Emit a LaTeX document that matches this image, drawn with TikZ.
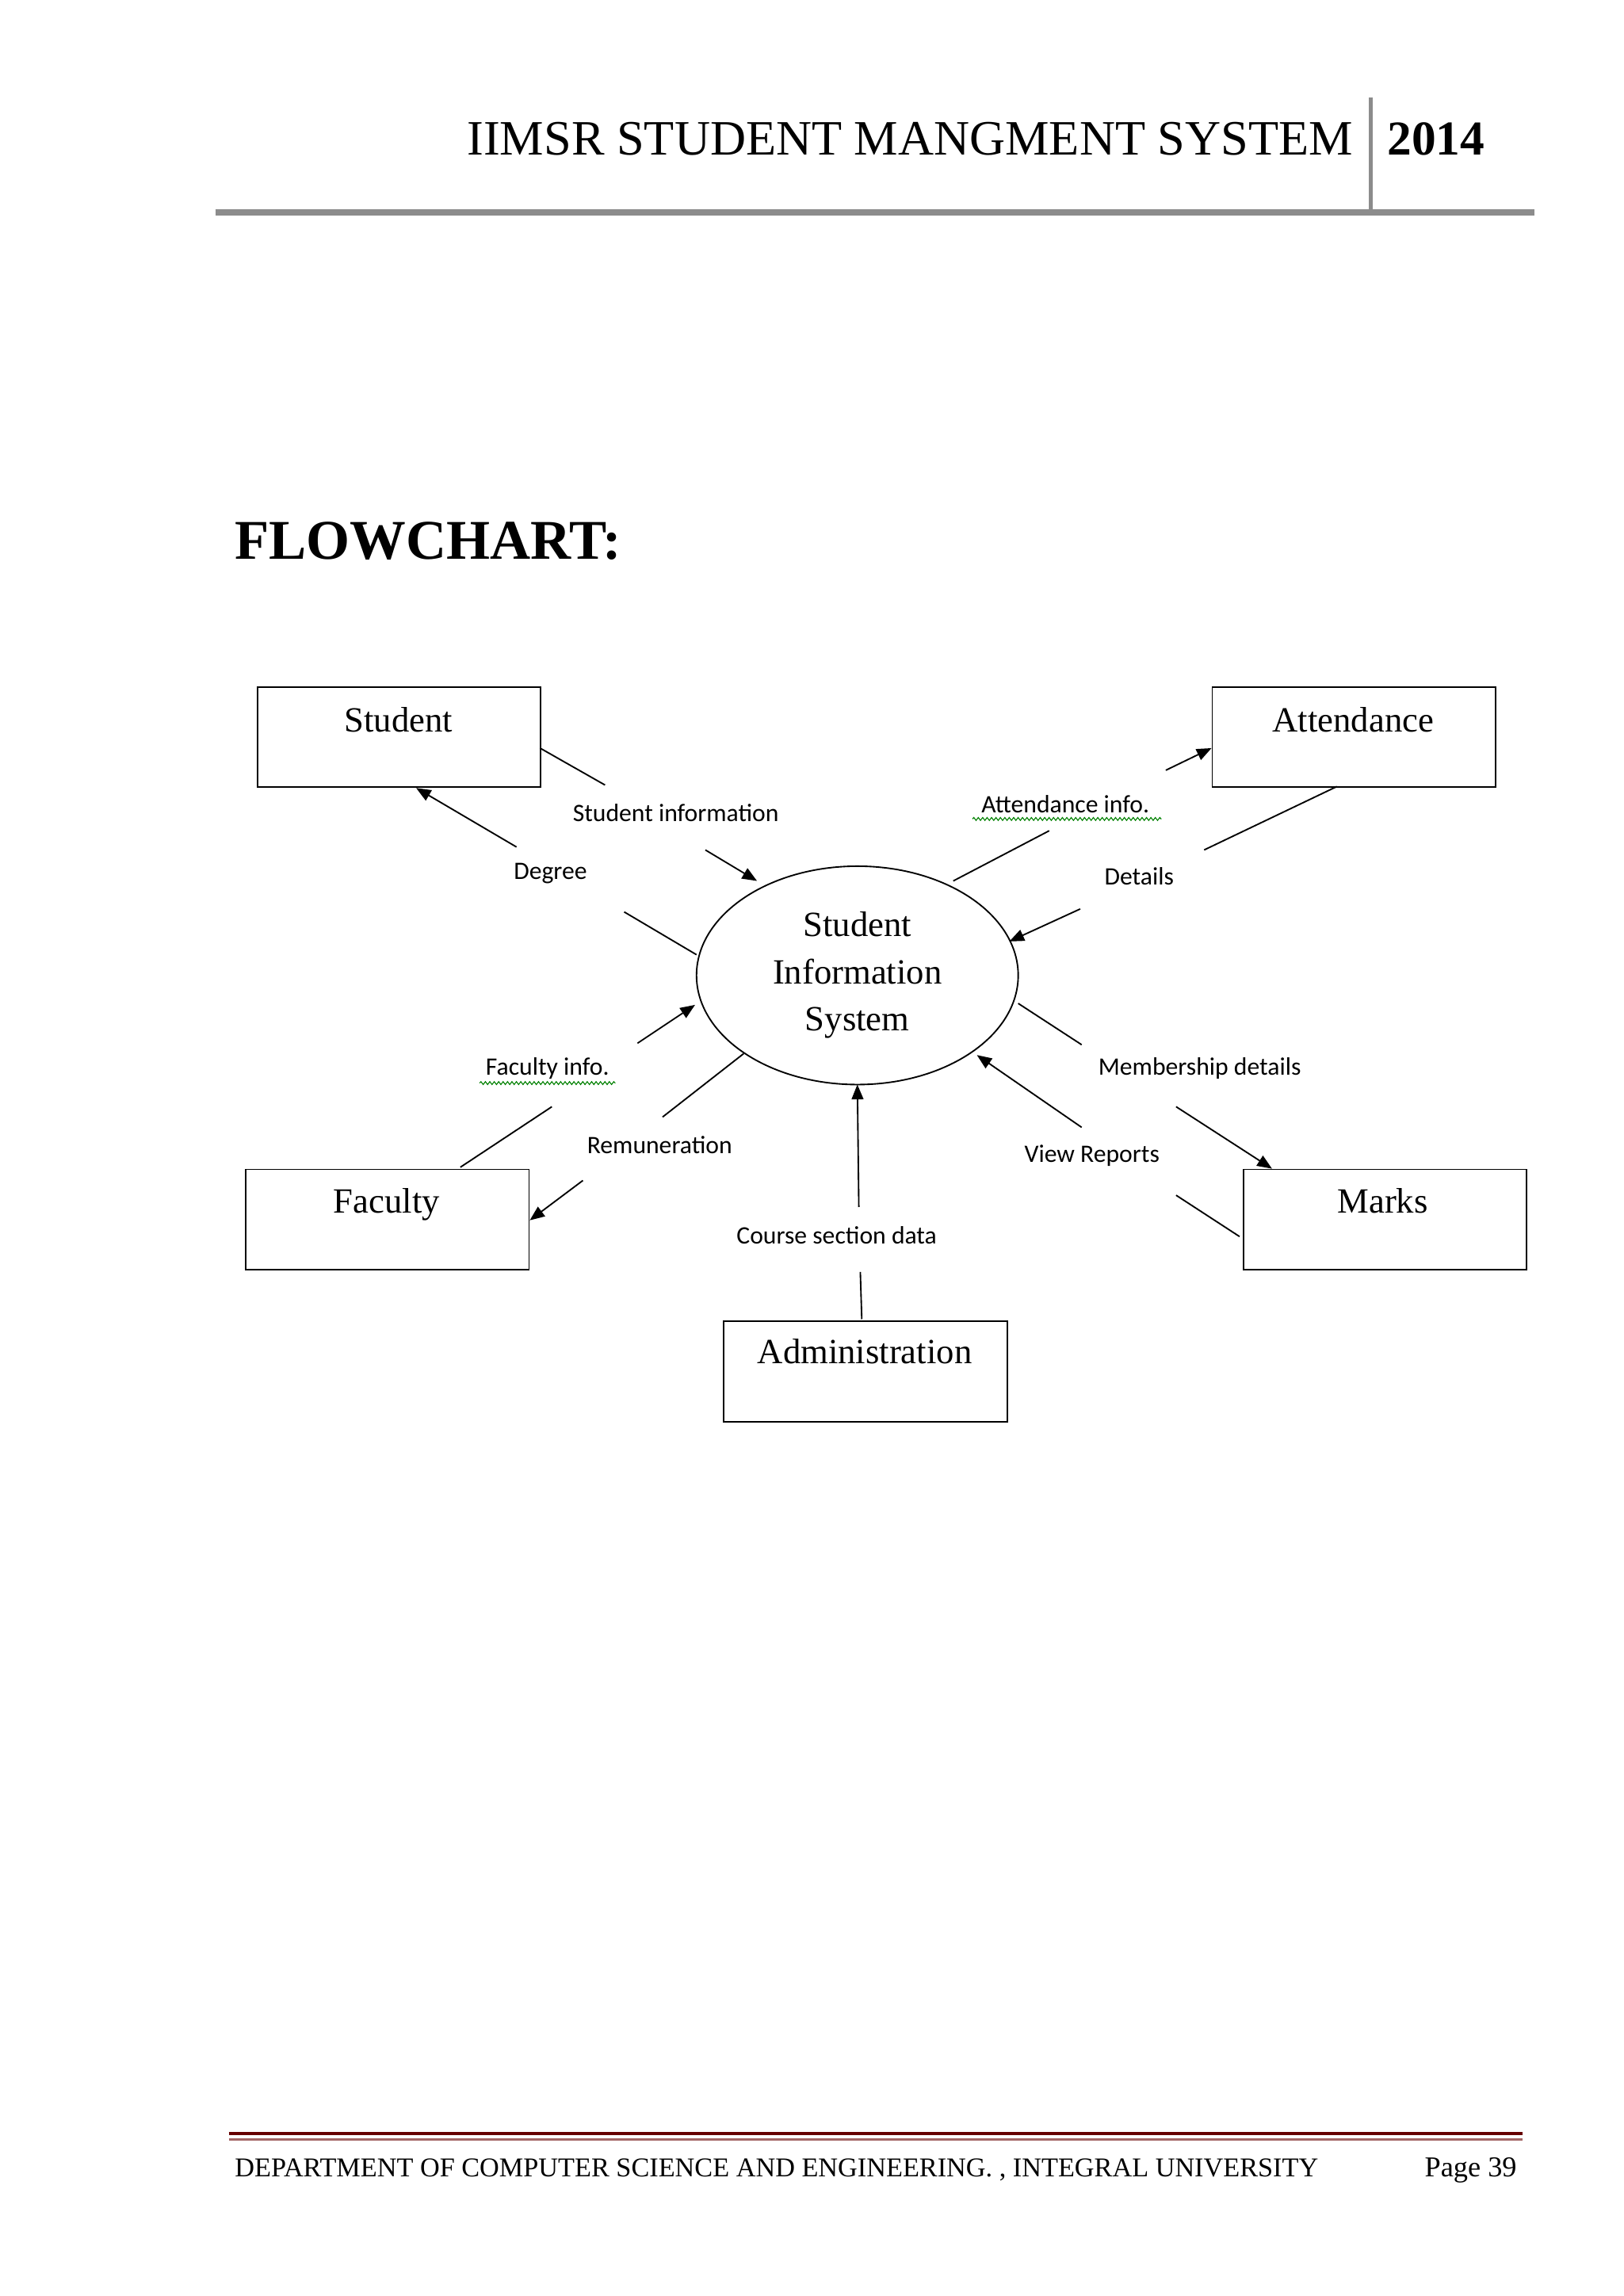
\documentclass[tikz,border=0pt]{standalone}
\usepackage{fontspec}
\setmainfont{Liberation Serif}
\newfontfamily\lblfont{Carlito}
\usetikzlibrary{arrows.meta,decorations.pathmorphing}
\begin{document}
\begin{tikzpicture}[x=1pt,y=-1pt,
  ent/.style={draw,line width=1pt,minimum width=192pt,minimum height=68pt,anchor=north west},
  entxt/.style={font=\fontsize{24}{28}\selectfont,anchor=base},
  lbl/.style={font=\lblfont\fontsize{17}{20}\selectfont},
  ln/.style={line width=1pt},
  ar/.style={line width=1pt,-{Triangle[length=10pt,width=8pt]}},
  squig/.style={draw=green!50!black,line width=0.6pt,decorate,decoration={snake,amplitude=1pt,segment length=3pt}}]
\useasboundingbox (0,0) rectangle (1100,1556);
% header
\node[anchor=base east,font=\fontsize{33.5}{36}\selectfont,inner sep=0] (title) at (917,105) {IIMSR STUDENT MANGMENT SYSTEM};
\node[anchor=base west,font=\bfseries\fontsize{33}{36}\selectfont,inner sep=0] (year) at (940,105) {2014};
\draw[gray!90,line width=3pt] (929,66) -- (929,143);
\draw[gray!90,line width=4pt] (146,144) -- (1040,144);
\node[anchor=base west,font=\bfseries\fontsize{38}{42}\selectfont,inner sep=0] (fc) at (159,379) {FLOWCHART:};
% entities
\node[ent] (stu) at (174,465) {};
\node[ent] (att) at (821,465) {};
\node[ent] (fac) at (166,792) {};
\node[ent] (mar) at (842,792) {};
\node[ent] (adm) at (490,895) {};
\node[entxt] at (270,496) {Student};
\node[entxt] at (917,496) {Attendance};
\node[entxt] at (262,822) {Faculty};
\node[entxt] at (937,822) {Marks};
\node[entxt] at (586,924) {Administration};
\draw[line width=1pt] (581,661) ellipse [x radius=109, y radius=74];
\node[align=center,font=\fontsize{24}{32}\selectfont] (sis) at (581,661) {Student\\Information\\System};
% connectors
\draw[ln] (366,507) -- (410,532);
\draw[ar] (478,576) -- (513,597);
\draw[ln] (472,647) -- (423,618);
\draw[ar] (350,574) -- (282,534);
\draw[ln] (646,597) -- (711,563);
\draw[ar] (790,522) -- (821,507);
\draw[ln] (906,533) -- (816,576);
\draw[ar] (732,616) -- (684,638);
\draw[ln] (312,791) -- (374,750);
\draw[ar] (432,707) -- (471,681);
\draw[ln] (504,714) -- (449,757);
\draw[ar] (395,800) -- (359,827);
\draw[ln] (584,894) -- (583,862);
\draw[ar] (582,818) -- (581,735);
\draw[ln] (690,680) -- (733,708);
\draw[ar] (797,750) -- (862,792);
\draw[ln] (840,838) -- (797,810);
\draw[ar] (733,764) -- (662,715);
% labels
\node[lbl] (l1) at (458,551) {Student information};
\node[lbl] (l2) at (373,592) {Degree};
\node[lbl] (l3) at (722,545) {Attendance info.};
\node[lbl] (l4) at (772,594) {Details};
\node[lbl] (l5) at (371,724) {Faculty info.};
\node[lbl] (l6) at (447,776) {Remuneration};
\node[lbl] (l7) at (813,724) {Membership details};
\node[lbl] (l8) at (740,783) {View Reports};
\node[lbl] (l9) at (567,837) {Course section data};
\draw[squig] (659,555) -- (787,555);
\draw[squig] (325,734) -- (417,734);
% footer
\draw[red!40!black,line width=2pt] (155,1446) -- (1032,1446);
\draw[red!40!black!60,line width=1.5pt] (155,1450) -- (1032,1450);
\node[anchor=base west,font=\fontsize{18.4}{20}\selectfont,inner sep=0] (dept) at (159,1475) {DEPARTMENT OF COMPUTER SCIENCE AND ENGINEERING. , INTEGRAL UNIVERSITY};
\node[anchor=base east,font=\fontsize{19.5}{22}\selectfont,inner sep=0] (page) at (1028,1475) {Page 39};
\end{tikzpicture}
\end{document}
